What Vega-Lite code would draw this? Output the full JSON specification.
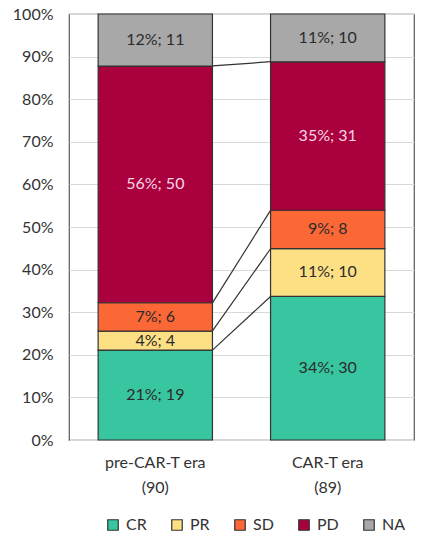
{
  "$schema": "https://vega.github.io/schema/vega-lite/v6.json",
  "width": 345,
  "height": 426,
  "autosize": "none",
  "padding": {"left": 69, "top": 14, "right": 18, "bottom": 110},
  "background": "white",
  "layer": [
    {
      "data": {
        "values": [
          {"era": "pre-CAR-T era", "cat": "CR", "k": 1, "n": 19, "label": "21%; 19"},
          {"era": "pre-CAR-T era", "cat": "PR", "k": 2, "n": 4, "label": "4%; 4"},
          {"era": "pre-CAR-T era", "cat": "SD", "k": 3, "n": 6, "label": "7%; 6"},
          {"era": "pre-CAR-T era", "cat": "PD", "k": 4, "n": 50, "label": "56%; 50"},
          {"era": "pre-CAR-T era", "cat": "NA", "k": 5, "n": 11, "label": "12%; 11"},
          {"era": "CAR-T era", "cat": "CR", "k": 1, "n": 30, "label": "34%; 30"},
          {"era": "CAR-T era", "cat": "PR", "k": 2, "n": 10, "label": "11%; 10"},
          {"era": "CAR-T era", "cat": "SD", "k": 3, "n": 8, "label": "9%; 8"},
          {"era": "CAR-T era", "cat": "PD", "k": 4, "n": 31, "label": "35%; 31"},
          {"era": "CAR-T era", "cat": "NA", "k": 5, "n": 10, "label": "11%; 10"}
        ]
      },
      "encoding": {
        "x": {
          "field": "era",
          "type": "nominal",
          "scale": {
            "domain": ["pre-CAR-T era", "CAR-T era"],
            "paddingInner": 0.337,
            "paddingOuter": 0.169
          },
          "axis": {
            "title": null,
            "labelAngle": 0,
            "ticks": false,
            "domain": false,
            "labelPadding": 14,
            "labelLineHeight": 25,
            "labelExpr": "datum.value == 'pre-CAR-T era' ? ['pre-CAR-T era', '(90)'] : ['CAR-T era', '(89)']"
          }
        },
        "y": {
          "field": "n",
          "type": "quantitative",
          "stack": "normalize",
          "scale": {"domain": [0, 1]},
          "axis": {
            "title": null,
            "format": ".0%",
            "values": [0, 0.1, 0.2, 0.3, 0.4, 0.5, 0.6, 0.7, 0.8, 0.9, 1],
            "ticks": false,
            "domain": false,
            "labelPadding": 16,
            "gridColor": "#d9d9d9"
          }
        },
        "order": {"field": "k", "type": "quantitative"}
      },
      "layer": [
        {
          "mark": {"type": "bar", "stroke": "#333333", "strokeWidth": 1.2},
          "encoding": {
            "color": {
              "field": "cat",
              "type": "nominal",
              "scale": {
                "domain": ["CR", "PR", "SD", "PD", "NA"],
                "range": ["#38c6a0", "#fde084", "#fb6836", "#aa003e", "#a8a8a8"]
              },
              "legend": {
                "title": null,
                "orient": "none",
                "direction": "horizontal",
                "legendX": 36,
                "legendY": 503,
                "symbolType": "square",
                "symbolSize": 110,
                "symbolStrokeColor": "#333333",
                "symbolStrokeWidth": 1.2,
                "symbolOpacity": 1,
                "labelFontSize": 16,
                "labelFont": "Lato",
                "labelColor": "#333333",
                "labelOffset": 5,
                "columnPadding": 22
              }
            }
          }
        },
        {
          "mark": {"type": "text", "font": "Lato", "fontSize": 16},
          "encoding": {
            "y": {"field": "n", "type": "quantitative", "stack": "normalize", "bandPosition": 0.5},
            "detail": {"field": "cat"},
            "text": {"field": "label"},
            "color": {
              "condition": {"test": "datum.cat == 'PD'", "value": "#f6d6e4"},
              "value": "#2b2b2b"
            }
          }
        }
      ]
    },
    {
      "data": {
        "values": [
          {"from": "pre-CAR-T era", "to": "CAR-T era", "y1": 0.211, "y2": 0.337},
          {"from": "pre-CAR-T era", "to": "CAR-T era", "y1": 0.256, "y2": 0.449},
          {"from": "pre-CAR-T era", "to": "CAR-T era", "y1": 0.322, "y2": 0.539},
          {"from": "pre-CAR-T era", "to": "CAR-T era", "y1": 0.878, "y2": 0.888}
        ]
      },
      "mark": {"type": "rule", "color": "#333333", "strokeWidth": 1.2},
      "encoding": {
        "x": {"field": "from", "type": "nominal", "bandPosition": 1},
        "x2": {"field": "to", "bandPosition": 0},
        "y": {"field": "y1", "type": "quantitative"},
        "y2": {"field": "y2"}
      }
    }
  ],
  "config": {
    "view": {"stroke": "#595959", "strokeWidth": 1.2},
    "axis": {"labelFont": "Lato", "labelFontSize": 16, "labelColor": "#333333"}
  }
}
